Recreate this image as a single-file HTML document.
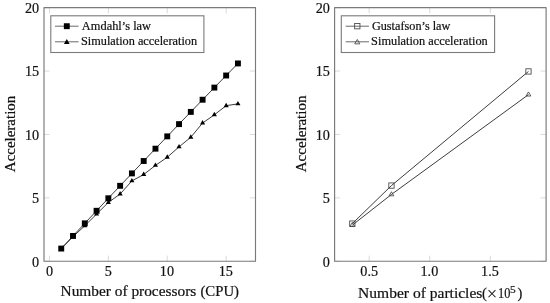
<!DOCTYPE html>
<html><head><meta charset="utf-8"><style>
html,body{margin:0;padding:0;background:#fff;width:550px;height:303px;overflow:hidden}
svg{display:block}
text{font-family:'Liberation Serif', 'DejaVu Serif', serif;fill:#111;stroke:#111;stroke-width:0.2px}
</style></head><body>
<svg width="550" height="303" viewBox="0 0 550 303">
<line x1="49.45" y1="261.25" x2="49.45" y2="255.65" stroke="#dadada" stroke-width="1"/>
<line x1="49.45" y1="7.65" x2="49.45" y2="13.25" stroke="#dadada" stroke-width="1"/>
<text x="45.90" y="275.90" font-size="14.2">0</text>
<line x1="108.35" y1="261.25" x2="108.35" y2="255.65" stroke="#dadada" stroke-width="1"/>
<line x1="108.35" y1="7.65" x2="108.35" y2="13.25" stroke="#dadada" stroke-width="1"/>
<text x="104.66" y="275.90" font-size="14.2">5</text>
<line x1="167.25" y1="261.25" x2="167.25" y2="255.65" stroke="#dadada" stroke-width="1"/>
<line x1="167.25" y1="7.65" x2="167.25" y2="13.25" stroke="#dadada" stroke-width="1"/>
<text x="159.80" y="275.90" font-size="14.2">10</text>
<line x1="226.15" y1="261.25" x2="226.15" y2="255.65" stroke="#dadada" stroke-width="1"/>
<line x1="226.15" y1="7.65" x2="226.15" y2="13.25" stroke="#dadada" stroke-width="1"/>
<text x="218.69" y="275.90" font-size="14.2">15</text>
<line x1="44.00" y1="261.25" x2="49.60" y2="261.25" stroke="#dadada" stroke-width="1"/>
<line x1="255.50" y1="261.25" x2="249.90" y2="261.25" stroke="#dadada" stroke-width="1"/>
<text x="32.07" y="266.55" font-size="14.2">0</text>
<line x1="44.00" y1="197.85" x2="49.60" y2="197.85" stroke="#dadada" stroke-width="1"/>
<line x1="255.50" y1="197.85" x2="249.90" y2="197.85" stroke="#dadada" stroke-width="1"/>
<text x="32.07" y="203.15" font-size="14.2">5</text>
<line x1="44.00" y1="134.45" x2="49.60" y2="134.45" stroke="#dadada" stroke-width="1"/>
<line x1="255.50" y1="134.45" x2="249.90" y2="134.45" stroke="#dadada" stroke-width="1"/>
<text x="24.97" y="139.75" font-size="14.2">10</text>
<line x1="44.00" y1="71.05" x2="49.60" y2="71.05" stroke="#dadada" stroke-width="1"/>
<line x1="255.50" y1="71.05" x2="249.90" y2="71.05" stroke="#dadada" stroke-width="1"/>
<text x="24.97" y="76.35" font-size="14.2">15</text>
<line x1="44.00" y1="7.65" x2="49.60" y2="7.65" stroke="#dadada" stroke-width="1"/>
<line x1="255.50" y1="7.65" x2="249.90" y2="7.65" stroke="#dadada" stroke-width="1"/>
<text x="24.97" y="12.95" font-size="14.2">20</text>
<rect x="44.0" y="7.65" width="211.50" height="253.60" fill="none" stroke="#7a7a7a" stroke-width="1.15" stroke-linejoin="round"/>
<text x="14.80" y="172.15" transform="rotate(-90 14.80 172.15)" font-size="14.0" textLength="76.42" lengthAdjust="spacingAndGlyphs">Acceleration</text>
<text x="60.54" y="295.90" font-size="14.5" textLength="135.74" lengthAdjust="spacingAndGlyphs">Number of processors</text>
<text x="200.41" y="295.90" font-size="14.3" textLength="38.60" lengthAdjust="spacingAndGlyphs">(CPU)</text>
<polyline points="61.23,248.57 73.01,236.78 84.79,225.75 96.57,214.08 108.35,202.41 120.13,194.05 131.91,180.86 143.69,174.52 155.47,165.39 167.25,157.27 179.03,146.88 190.81,137.24 202.59,123.04 214.37,114.80 226.15,105.67 237.93,103.89" fill="none" stroke="#333" stroke-width="0.95"/>
<polyline points="61.23,248.57 73.01,235.93 84.79,223.34 96.57,210.79 108.35,198.28 120.13,185.81 131.91,173.39 143.69,161.01 155.47,148.67 167.25,136.37 179.03,124.12 190.81,111.90 202.59,99.72 214.37,87.59 226.15,75.50 237.93,63.44" fill="none" stroke="#333" stroke-width="0.95"/>
<polygon points="61.23,245.63 63.78,250.04 58.68,250.04" fill="#000" stroke="none" stroke-width="0" stroke-linejoin="miter"/>
<polygon points="73.01,233.84 75.56,238.25 70.46,238.25" fill="#000" stroke="none" stroke-width="0" stroke-linejoin="miter"/>
<polygon points="84.79,222.81 87.34,227.22 82.24,227.22" fill="#000" stroke="none" stroke-width="0" stroke-linejoin="miter"/>
<polygon points="96.57,211.14 99.12,215.55 94.02,215.55" fill="#000" stroke="none" stroke-width="0" stroke-linejoin="miter"/>
<polygon points="108.35,199.47 110.90,203.88 105.80,203.88" fill="#000" stroke="none" stroke-width="0" stroke-linejoin="miter"/>
<polygon points="120.13,191.11 122.68,195.52 117.58,195.52" fill="#000" stroke="none" stroke-width="0" stroke-linejoin="miter"/>
<polygon points="131.91,177.92 134.46,182.33 129.36,182.33" fill="#000" stroke="none" stroke-width="0" stroke-linejoin="miter"/>
<polygon points="143.69,171.58 146.24,175.99 141.14,175.99" fill="#000" stroke="none" stroke-width="0" stroke-linejoin="miter"/>
<polygon points="155.47,162.45 158.02,166.86 152.92,166.86" fill="#000" stroke="none" stroke-width="0" stroke-linejoin="miter"/>
<polygon points="167.25,154.33 169.80,158.74 164.70,158.74" fill="#000" stroke="none" stroke-width="0" stroke-linejoin="miter"/>
<polygon points="179.03,143.94 181.58,148.35 176.48,148.35" fill="#000" stroke="none" stroke-width="0" stroke-linejoin="miter"/>
<polygon points="190.81,134.30 193.36,138.71 188.26,138.71" fill="#000" stroke="none" stroke-width="0" stroke-linejoin="miter"/>
<polygon points="202.59,120.10 205.14,124.51 200.04,124.51" fill="#000" stroke="none" stroke-width="0" stroke-linejoin="miter"/>
<polygon points="214.37,111.86 216.92,116.27 211.82,116.27" fill="#000" stroke="none" stroke-width="0" stroke-linejoin="miter"/>
<polygon points="226.15,102.73 228.70,107.14 223.60,107.14" fill="#000" stroke="none" stroke-width="0" stroke-linejoin="miter"/>
<polygon points="237.93,100.95 240.48,105.36 235.38,105.36" fill="#000" stroke="none" stroke-width="0" stroke-linejoin="miter"/>
<rect x="58.28" y="245.62" width="5.90" height="5.90" fill="#000" stroke="none" stroke-width="0"/>
<rect x="70.06" y="232.98" width="5.90" height="5.90" fill="#000" stroke="none" stroke-width="0"/>
<rect x="81.84" y="220.39" width="5.90" height="5.90" fill="#000" stroke="none" stroke-width="0"/>
<rect x="93.62" y="207.84" width="5.90" height="5.90" fill="#000" stroke="none" stroke-width="0"/>
<rect x="105.40" y="195.33" width="5.90" height="5.90" fill="#000" stroke="none" stroke-width="0"/>
<rect x="117.18" y="182.86" width="5.90" height="5.90" fill="#000" stroke="none" stroke-width="0"/>
<rect x="128.96" y="170.44" width="5.90" height="5.90" fill="#000" stroke="none" stroke-width="0"/>
<rect x="140.74" y="158.06" width="5.90" height="5.90" fill="#000" stroke="none" stroke-width="0"/>
<rect x="152.52" y="145.72" width="5.90" height="5.90" fill="#000" stroke="none" stroke-width="0"/>
<rect x="164.30" y="133.42" width="5.90" height="5.90" fill="#000" stroke="none" stroke-width="0"/>
<rect x="176.08" y="121.17" width="5.90" height="5.90" fill="#000" stroke="none" stroke-width="0"/>
<rect x="187.86" y="108.95" width="5.90" height="5.90" fill="#000" stroke="none" stroke-width="0"/>
<rect x="199.64" y="96.77" width="5.90" height="5.90" fill="#000" stroke="none" stroke-width="0"/>
<rect x="211.42" y="84.64" width="5.90" height="5.90" fill="#000" stroke="none" stroke-width="0"/>
<rect x="223.20" y="72.55" width="5.90" height="5.90" fill="#000" stroke="none" stroke-width="0"/>
<rect x="234.98" y="60.49" width="5.90" height="5.90" fill="#000" stroke="none" stroke-width="0"/>
<rect x="50.8" y="15.8" width="153.10" height="36.70" fill="#fff" stroke="#7a7a7a" stroke-width="1.1"/>
<line x1="55.0" y1="26.2" x2="78.6" y2="26.2" stroke="#6a6a6a" stroke-width="1"/>
<line x1="55.0" y1="41.8" x2="78.6" y2="41.8" stroke="#6a6a6a" stroke-width="1"/>
<rect x="63.85" y="23.25" width="5.90" height="5.90" fill="#000" stroke="none" stroke-width="0"/>
<polygon points="66.80,39.11 69.65,44.05 63.95,44.05" fill="#000" stroke="none" stroke-width="0" stroke-linejoin="miter"/>
<text x="81.88" y="29.50" font-size="12.0" textLength="69.16" lengthAdjust="spacingAndGlyphs">Amdahl’s law</text>
<text x="81.04" y="45.10" font-size="12.0" textLength="116.09" lengthAdjust="spacingAndGlyphs">Simulation acceleration</text>
<line x1="369.17" y1="261.25" x2="369.17" y2="255.65" stroke="#dadada" stroke-width="1"/>
<line x1="369.17" y1="7.65" x2="369.17" y2="13.25" stroke="#dadada" stroke-width="1"/>
<text x="360.30" y="275.90" font-size="14.2">0.5</text>
<line x1="429.74" y1="261.25" x2="429.74" y2="255.65" stroke="#dadada" stroke-width="1"/>
<line x1="429.74" y1="7.65" x2="429.74" y2="13.25" stroke="#dadada" stroke-width="1"/>
<text x="420.51" y="275.90" font-size="14.2">1.0</text>
<line x1="490.31" y1="261.25" x2="490.31" y2="255.65" stroke="#dadada" stroke-width="1"/>
<line x1="490.31" y1="7.65" x2="490.31" y2="13.25" stroke="#dadada" stroke-width="1"/>
<text x="481.08" y="275.90" font-size="14.2">1.5</text>
<line x1="334.60" y1="261.25" x2="340.20" y2="261.25" stroke="#dadada" stroke-width="1"/>
<line x1="546.10" y1="261.25" x2="540.50" y2="261.25" stroke="#dadada" stroke-width="1"/>
<text x="322.77" y="266.55" font-size="14.2">0</text>
<line x1="334.60" y1="197.85" x2="340.20" y2="197.85" stroke="#dadada" stroke-width="1"/>
<line x1="546.10" y1="197.85" x2="540.50" y2="197.85" stroke="#dadada" stroke-width="1"/>
<text x="322.77" y="203.15" font-size="14.2">5</text>
<line x1="334.60" y1="134.45" x2="340.20" y2="134.45" stroke="#dadada" stroke-width="1"/>
<line x1="546.10" y1="134.45" x2="540.50" y2="134.45" stroke="#dadada" stroke-width="1"/>
<text x="315.67" y="139.75" font-size="14.2">10</text>
<line x1="334.60" y1="71.05" x2="340.20" y2="71.05" stroke="#dadada" stroke-width="1"/>
<line x1="546.10" y1="71.05" x2="540.50" y2="71.05" stroke="#dadada" stroke-width="1"/>
<text x="315.67" y="76.35" font-size="14.2">15</text>
<line x1="334.60" y1="7.65" x2="340.20" y2="7.65" stroke="#dadada" stroke-width="1"/>
<line x1="546.10" y1="7.65" x2="540.50" y2="7.65" stroke="#dadada" stroke-width="1"/>
<text x="315.67" y="12.95" font-size="14.2">20</text>
<rect x="334.6" y="7.65" width="211.50" height="253.60" fill="none" stroke="#7a7a7a" stroke-width="1.15" stroke-linejoin="round"/>
<text x="305.90" y="172.25" transform="rotate(-90 305.90 172.25)" font-size="14.0" textLength="76.72" lengthAdjust="spacingAndGlyphs">Acceleration</text>
<text x="358.13" y="297.80" font-size="14.5" textLength="124.24" lengthAdjust="spacingAndGlyphs">Number of particles</text>
<text x="481.9" y="297.8" font-size="14.5">(</text>
<text x="486.7" y="300.40" font-size="18.5" style="stroke-width:0">×</text>
<text x="498.1" y="297.8" font-size="14.3" textLength="12.3" lengthAdjust="spacingAndGlyphs">10</text>
<text x="509.9" y="292.70" font-size="11.4">5</text>
<text x="517.5" y="297.8" font-size="14.5">)</text>
<polyline points="352.33,225.13 391.46,194.45 528.47,94.65" fill="none" stroke="#333" stroke-width="0.95"/>
<polyline points="352.33,223.61 391.46,185.57 528.47,71.45" fill="none" stroke="#333" stroke-width="0.95"/>
<polygon points="352.33,222.40 354.70,226.50 349.97,226.50" fill="none" stroke="#444" stroke-width="0.85" stroke-linejoin="miter"/>
<polygon points="391.46,191.72 393.82,195.81 389.10,195.81" fill="none" stroke="#444" stroke-width="0.85" stroke-linejoin="miter"/>
<polygon points="528.47,91.92 530.83,96.02 526.10,96.02" fill="none" stroke="#444" stroke-width="0.85" stroke-linejoin="miter"/>
<rect x="349.68" y="220.96" width="5.30" height="5.30" fill="none" stroke="#444" stroke-width="0.85"/>
<rect x="388.81" y="182.92" width="5.30" height="5.30" fill="none" stroke="#444" stroke-width="0.85"/>
<rect x="525.82" y="68.80" width="5.30" height="5.30" fill="none" stroke="#444" stroke-width="0.85"/>
<rect x="341.3" y="15.8" width="153.30" height="36.70" fill="#fff" stroke="#7a7a7a" stroke-width="1.1"/>
<line x1="345.7" y1="26.2" x2="369.0" y2="26.2" stroke="#6a6a6a" stroke-width="1"/>
<line x1="345.7" y1="41.8" x2="369.0" y2="41.8" stroke="#6a6a6a" stroke-width="1"/>
<rect x="354.65" y="23.55" width="5.30" height="5.30" fill="none" stroke="#444" stroke-width="0.85"/>
<polygon points="357.30,39.46 359.85,43.87 354.75,43.87" fill="none" stroke="#444" stroke-width="0.85" stroke-linejoin="miter"/>
<text x="371.91" y="29.50" font-size="12.0" textLength="78.46" lengthAdjust="spacingAndGlyphs">Gustafson’s law</text>
<text x="371.14" y="45.10" font-size="12.0" textLength="116.59" lengthAdjust="spacingAndGlyphs">Simulation acceleration</text>
</svg>
</body></html>
